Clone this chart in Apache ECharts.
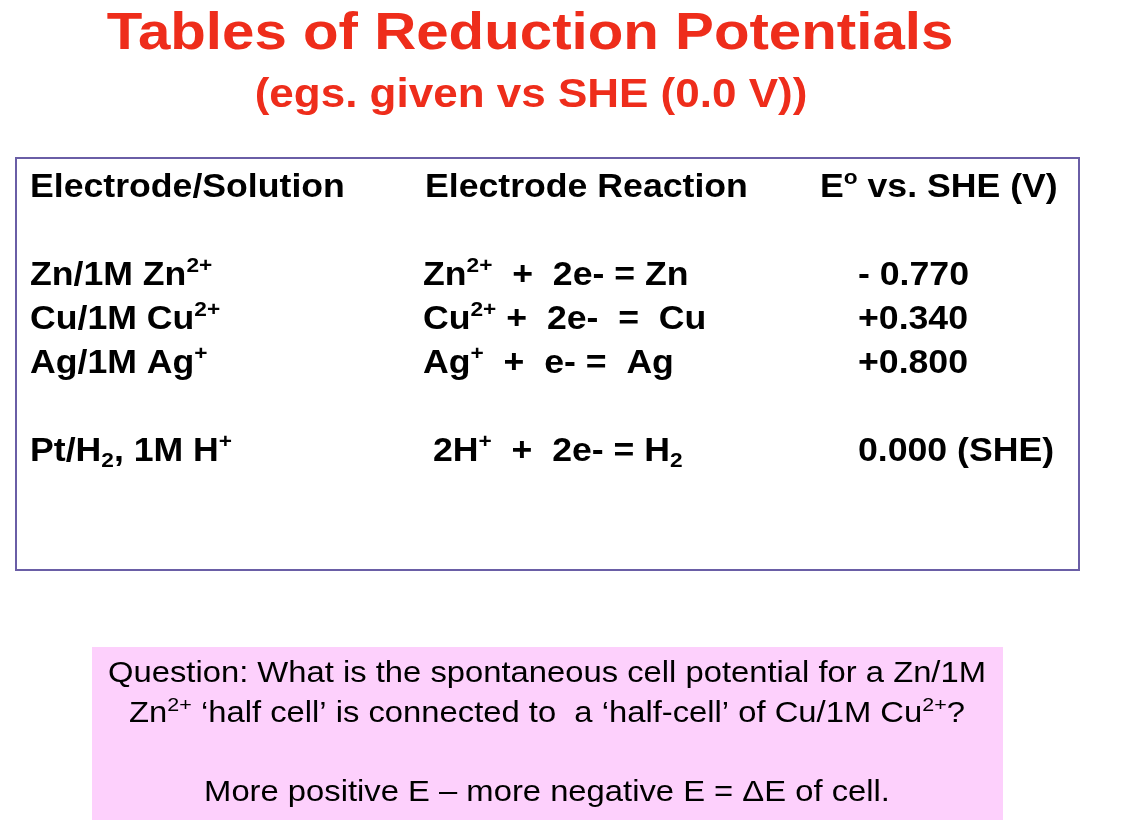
<!DOCTYPE html>
<html>
<head>
<meta charset="utf-8">
<script src="https://cdn.jsdelivr.net/npm/echarts@6/dist/echarts.min.js"></script>
<style>html,body{margin:0;padding:0;background:#fff}</style>
</head>
<body>
<div id="main" style="width:1126px;height:828px;"></div>
<script>
// table content
var headers = ['Electrode/Solution', 'Electrode Reaction', 'E{osup|o} vs. SHE (V)'];
var electrodes = ['Zn/1M Zn{sup|2+}', 'Cu/1M Cu{sup|2+}', 'Ag/1M Ag{sup|+}', 'Pt/H{sub|2}, 1M H{sup|+}'];
var reactions = ['Zn{sup|2+}  +  2e- = Zn', 'Cu{sup|2+} +  2e-  =  Cu', 'Ag{sup|+}  +  e- =  Ag', ' 2H{sup|+}  +  2e- = H{sub|2}'];
var potentials = ['- 0.770', '+0.340', '+0.800', '0.000 (SHE)'];
var rowY = [276, 320, 364, 452];
var questionLines = [
  'Question: What is the spontaneous cell potential for a Zn/1M',
  'Zn{qsup|2+} \u2018half cell\u2019 is connected to  a \u2018half-cell\u2019 of Cu/1M Cu{qsup|2+}?',
  '',
  'More positive E \u2013 more negative E = \u0394E of cell.'
];
var questionY = [674, 714, 754, 793];

var FONT = 'Liberation Sans, Arial, sans-serif';
var rich = {
  sup: {fontSize: 21, fontWeight: 'bold', fontFamily: FONT, verticalAlign: 'top', lineHeight: 40, padding: [0, 0, 14, 0]},
  osup: {fontSize: 21, fontWeight: 'bold', fontFamily: FONT, verticalAlign: 'top', lineHeight: 40, padding: [0, 0, 14, 0]},
  sub: {fontSize: 21, fontWeight: 'bold', fontFamily: FONT, verticalAlign: 'bottom', lineHeight: 40, padding: [14, 0, 0, 0]},
  qsup: {fontSize: 19, fontFamily: FONT, verticalAlign: 'top', lineHeight: 36, padding: [0, 0, 12, 0]}
};

function txt(s, x, y, sx, opts) {
  return {
    type: 'text', x: x, y: y, scaleX: sx,
    style: Object.assign({
      text: s, fill: '#000', fontSize: 33, fontWeight: 'bold', fontFamily: FONT,
      verticalAlign: 'middle', align: 'left', lineHeight: 40, rich: rich
    }, opts || {})
  };
}

var g = [];
g.push(txt('Tables of Reduction Potentials', 530, 35, 1.12, {fill: '#ee2d1b', fontSize: 52, align: 'center'}));
g.push(txt('(egs. given vs SHE (0.0 V))', 531, 96, 1.1, {fill: '#ee2d1b', fontSize: 40, align: 'center'}));
g.push({type: 'rect', shape: {x: 16, y: 158, width: 1063, height: 412},
  style: {fill: 'none', stroke: '#6a5ea6', lineWidth: 2}});
g.push(txt(headers[0], 30, 188, 1.08));
g.push(txt(headers[1], 425, 188, 1.08));
g.push(txt(headers[2], 820, 188, 1.08));
for (var i = 0; i < electrodes.length; i++) {
  g.push(txt(electrodes[i], 30, rowY[i], 1.08));
  g.push(txt(reactions[i], 423, rowY[i], 1.08));
  g.push(txt(potentials[i], 858, rowY[i], 1.08));
}
g.push({type: 'rect', shape: {x: 92, y: 647, width: 911, height: 173}, style: {fill: '#fdd0fc'}});
for (var j = 0; j < questionLines.length; j++) {
  if (!questionLines[j]) continue;
  g.push(txt(questionLines[j], 547, questionY[j], 1.13, {fontSize: 29, fontWeight: 'normal', align: 'center', lineHeight: 36}));
}

var chart = echarts.init(document.getElementById('main'));
chart.setOption({graphic: g});
</script>
</body>
</html>
